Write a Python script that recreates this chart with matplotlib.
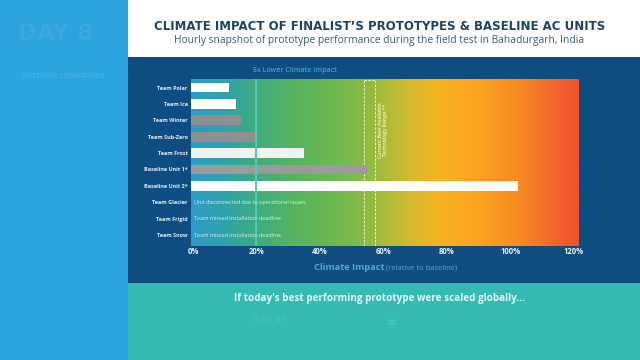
import numpy as np
import matplotlib
matplotlib.use("Agg")
import matplotlib.pyplot as plt
from matplotlib.colors import LinearSegmentedColormap
from matplotlib.patches import Rectangle

plt.rcParams['font.family'] = ['Open Sans', 'DejaVu Sans']

# ---- data ----
teams = ["Team Polar", "Team Ice", "Team Winter", "Team Sub-Zero", "Team Frost",
         "Baseline Unit 1*", "Baseline Unit 2*", "Team Glacier", "Team Frigid", "Team Snow"]
impact = [11.7, 13.7, 15.8, 19.6, 34.9, 54.4, 101.0, None, None, None]
bar_colors = ["#ffffff", "#ffffff", "#8f8f8f", "#8f8f8f", "#f2f2f2",
              "#9b9b9b", "#ffffff", None, None, None]
notes = {7: "Unit disconnected due to operational issues",
         8: "Team missed installation deadline",
         9: "Team missed installation deadline"}
xticks = [0, 20, 40, 60, 80, 100, 120]
lower_impact_x = 20
tech_range = [53.3, 56.8]
grad_stops = [(0.0, "#2f9bc9"), (0.08, "#2ea2ac"), (0.167, "#3fab80"), (0.27, "#58b45e"),
              (0.38, "#6fb94f"), (0.45, "#8cbb45"), (0.56, "#d0bc30"), (0.64, "#f8b420"),
              (0.74, "#fca31f"), (0.85, "#f78a22"), (0.95, "#f1612f"), (1.0, "#ee5330")]

W, H = 640, 360
fig = plt.figure(figsize=(W / 100, H / 100), dpi=100, facecolor="#ffffff")

def px_rect(x0, y0, x1, y1, color):
    fig.add_artist(Rectangle((x0 / W, 1 - y1 / H), (x1 - x0) / W, (y1 - y0) / H,
                             transform=fig.transFigure, color=color, lw=0, zorder=0))

def px_text(x, y, s, **kw):
    kw.setdefault("ha", "center")
    kw.setdefault("va", "center")
    return fig.text(x / W, 1 - y / H, s, **kw)

# background panels
px_rect(128, 57, 640, 283, "#0f4c81")
px_rect(128, 283, 640, 360, "#36bab4")
px_rect(0, 0, 128, 360, "#2ba3dc")

# header
px_text(380, 27, "CLIMATE IMPACT OF FINALIST\u2019S PROTOTYPES & BASELINE AC UNITS",
        fontsize=8.5, fontweight="bold", color="#1d4460", family="DejaVu Sans")
px_text(379, 41, "Hourly snapshot of prototype performance during the field test in Bahadurgarh, India",
        fontsize=7.35, color="#3f5a70")

# faint side panel
px_text(55, 33, "DAY 8", fontsize=16.5, fontweight="bold", color="#38a8dd", family="DejaVu Sans")
px_text(63, 77, "OUTDOOR CONDITIONS", fontsize=5.2, fontweight="bold", color="#47afe0")

# chart
x0, x1, y0, y1 = 191.3, 579.0, 79.0, 246.0
rect = [x0 / W, 1 - y1 / H, (x1 - x0) / W, (y1 - y0) / H]
ax = fig.add_axes(rect)
cmap = LinearSegmentedColormap.from_list("impact", grad_stops)
ax.imshow(np.linspace(0, 1, 512)[None, :], cmap=cmap, aspect="auto",
          extent=[0, 120, 9.67, -0.52], zorder=0)
ax.set_xlim(0, 120)
ax.set_ylim(9.67, -0.52)

dash = (0, (2.5, 1.5))
for xv in tech_range:
    ax.axvline(xv, color="#f4f2c0", lw=0.7, ls=dash, zorder=1.5)
ax.plot(tech_range, [-0.47, -0.47], color="#f4f2c0", lw=0.7, ls=dash, zorder=1.5)

for i, (v, c) in enumerate(zip(impact, bar_colors)):
    if v is not None:
        ax.barh(i, v, height=0.6, color=c, lw=0, zorder=2)

ax.axvline(lower_impact_x, color="#4fc9b4", lw=1.5, zorder=3)

for i, s in notes.items():
    ax.text(0.7, i, s, fontsize=3.95, color="#d8f0ee", va="center", ha="left", zorder=5)

ax.set_yticks(range(len(teams)))
ax.set_yticklabels(teams, fontsize=3.95, fontweight="bold", color="#dcebf5")
ax.set_xticks([])
ax.tick_params(length=0, pad=2.5, axis="y")
for s in ax.spines.values():
    s.set_visible(False)

# tick labels sit on a slightly narrower scale than the plot area, as in the reference
lab = fig.add_axes(rect, frameon=False)
lab.patch.set_alpha(0)
lab.set_xlim(-0.54, 121.57)
lab.set_yticks([])
lab.set_xticks(xticks)
lab.set_xticklabels([f"{t}%" for t in xticks], fontsize=5.6, fontweight="bold", color="#e8f2f8")
lab.tick_params(length=0, pad=0.5, axis="x")

ax.text(59.3, 2.6, "Current Best Available\nTechnology Range **", rotation=90, fontsize=3.8,
        color="#f6f3c0", ha="center", va="center", linespacing=1.0, zorder=5, fontweight="semibold")

px_text(295, 71, "5x Lower Climate Impact", fontsize=5.0, fontweight="semibold", color="#3fa6c2")
px_text(384, 268, "Climate Impact", fontsize=6.7, fontweight="bold", color="#4fa9d2", ha="right")
px_text(386, 268, "(relative to baseline)", fontsize=5.5, color="#4fa9d2", ha="left")

# footer
px_text(380, 299, "If today\u2019s best performing prototype were scaled globally...",
        fontsize=7.15, fontweight="bold", color="#e6f8f6")
px_text(270, 319, "0.75 GT", fontsize=6.8, fontweight="bold", color="#45c0ba")
px_text(391, 324, "=", fontsize=13, fontweight="bold", color="#4ac3bc")

fig.savefig("out.png", dpi=100, facecolor=fig.get_facecolor())
